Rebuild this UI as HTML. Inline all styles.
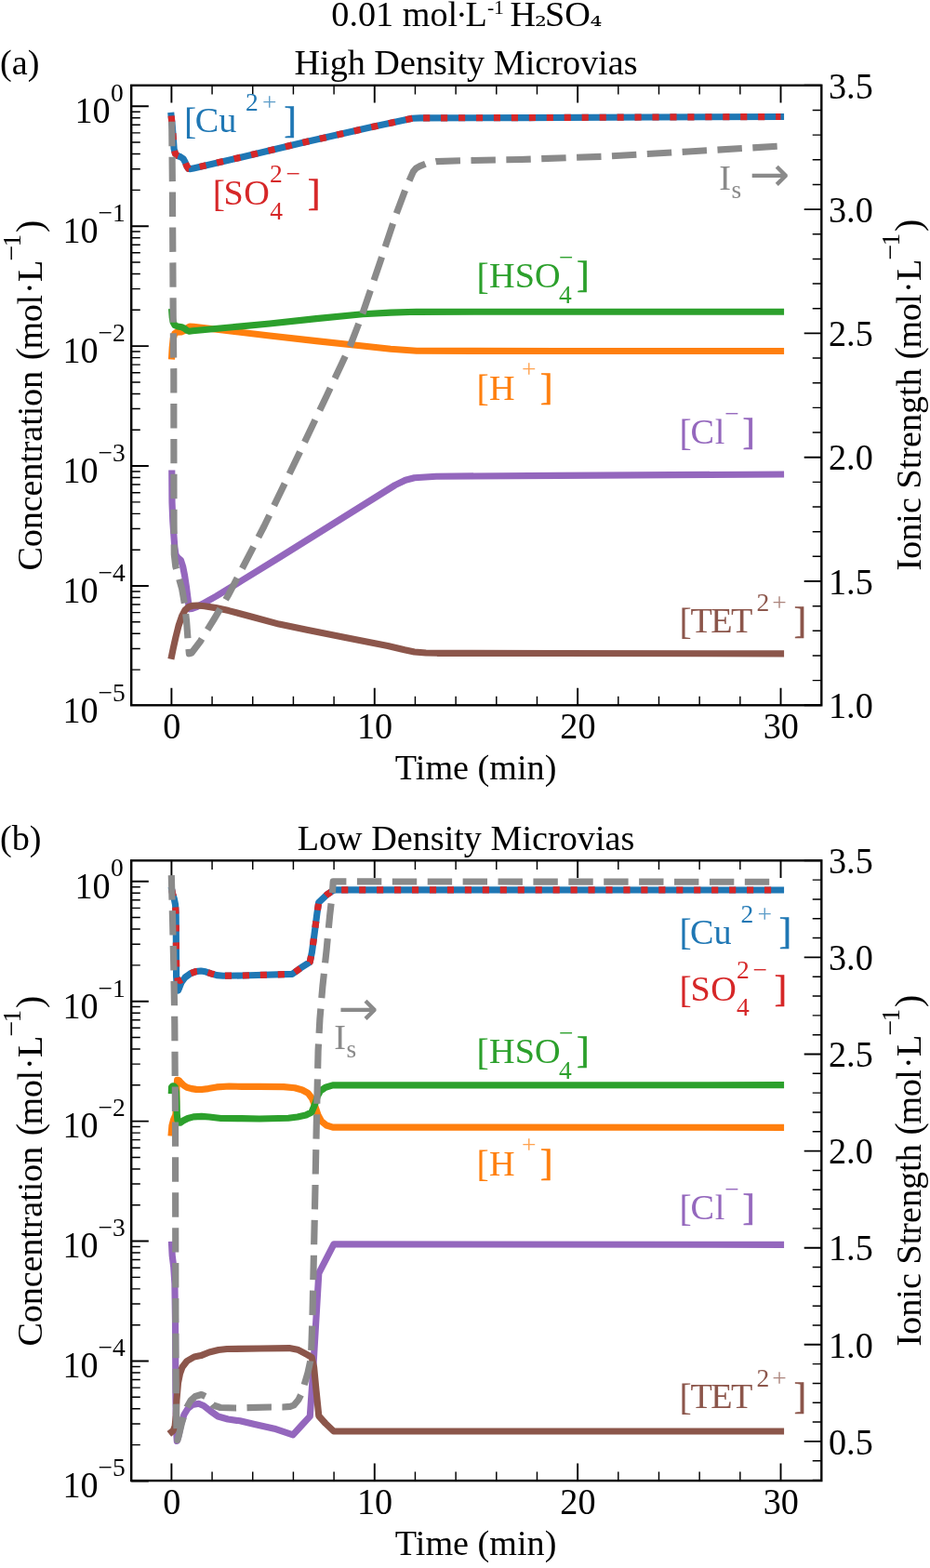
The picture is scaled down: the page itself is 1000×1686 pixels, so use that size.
<!DOCTYPE html>
<html lang="en"><head><meta charset="utf-8"><title>Concentration and ionic strength vs time</title>
<style>html,body{margin:0;padding:0;background:#fff}svg{display:block}text{font-family:"Liberation Serif","Times New Roman",serif}</style></head><body>
<svg width="1000" height="1686" viewBox="0 0 1000 1686">
<rect width="1000" height="1686" fill="#fff"/>
<text x="356.3" y="28.2" font-size="38.2" fill="#000" text-anchor="start" >0.01 mol</text>
<text x="489.9" y="28.2" font-size="38.2" fill="#000" text-anchor="start" >·</text>
<text x="500.5" y="28.2" font-size="38.2" fill="#000" text-anchor="start" >L</text>
<text x="523.9" y="15.2" font-size="21.7" fill="#000" text-anchor="start" >-1</text>
<text x="548.5" y="28.2" font-size="38.2" fill="#000" text-anchor="start" >H</text>
<text transform="translate(575.1 28.2) scale(1.3 1)" font-size="24.8" style="font-family:DejaVu Serif,Liberation Serif,serif">₂</text>
<text x="585.9" y="28.2" font-size="38.2" fill="#000" text-anchor="start" >SO</text>
<text transform="translate(634.5 28.2) scale(1.3 1)" font-size="24.8" style="font-family:DejaVu Serif,Liberation Serif,serif">₄</text>
<text x="501" y="79.6" font-size="38.2" fill="#000" text-anchor="middle" >High Density Microvias</text>
<text x="501" y="913.7" font-size="38.2" fill="#000" text-anchor="middle" >Low Density Microvias</text>
<text x="0" y="79.5" font-size="38.2" fill="#000" text-anchor="start" >(a)</text>
<text x="0" y="913.5" font-size="38.2" fill="#000" text-anchor="start" >(b)</text>
<text x="424.8" y="838.2" font-size="38.2" fill="#000" text-anchor="start" >Time (min)</text>
<text x="424.8" y="1671.7" font-size="38.2" fill="#000" text-anchor="start" >Time (min)</text>
<g>
<rect x="141.2" y="91.8" width="742.1" height="666.5" fill="none" stroke="#000" stroke-width="2.4"/>
<path d="M184.4 91.8L184.4 110.4 M184.4 758.3L184.4 739.7 M402.77 91.8L402.77 110.4 M402.77 758.3L402.77 739.7 M621.14 91.8L621.14 110.4 M621.14 758.3L621.14 739.7 M839.51 91.8L839.51 110.4 M839.51 758.3L839.51 739.7 M141.2 114.25L159.8 114.25 M141.2 243.19L159.8 243.19 M141.2 372.13L159.8 372.13 M141.2 501.07L159.8 501.07 M141.2 630.01L159.8 630.01 M883.3 758.3L864.7 758.3 M883.3 625L864.7 625 M883.3 491.7L864.7 491.7 M883.3 358.4L864.7 358.4 M883.3 225.1L864.7 225.1 M883.3 91.8L864.7 91.8" stroke="#000" stroke-width="1.9" fill="none"/>
<path d="M228.07 91.8L228.07 101.4 M228.07 758.3L228.07 748.7 M271.75 91.8L271.75 101.4 M271.75 758.3L271.75 748.7 M315.42 91.8L315.42 101.4 M315.42 758.3L315.42 748.7 M359.1 91.8L359.1 101.4 M359.1 758.3L359.1 748.7 M446.44 91.8L446.44 101.4 M446.44 758.3L446.44 748.7 M490.12 91.8L490.12 101.4 M490.12 758.3L490.12 748.7 M533.79 91.8L533.79 101.4 M533.79 758.3L533.79 748.7 M577.47 91.8L577.47 101.4 M577.47 758.3L577.47 748.7 M664.81 91.8L664.81 101.4 M664.81 758.3L664.81 748.7 M708.49 91.8L708.49 101.4 M708.49 758.3L708.49 748.7 M752.16 91.8L752.16 101.4 M752.16 758.3L752.16 748.7 M795.84 91.8L795.84 101.4 M795.84 758.3L795.84 748.7 M141.2 204.38L150.8 204.38 M141.2 181.67L150.8 181.67 M141.2 165.56L150.8 165.56 M141.2 153.06L150.8 153.06 M141.2 142.86L150.8 142.86 M141.2 134.22L150.8 134.22 M141.2 126.75L150.8 126.75 M141.2 120.15L150.8 120.15 M141.2 333.32L150.8 333.32 M141.2 310.61L150.8 310.61 M141.2 294.5L150.8 294.5 M141.2 282L150.8 282 M141.2 271.8L150.8 271.8 M141.2 263.16L150.8 263.16 M141.2 255.69L150.8 255.69 M141.2 249.09L150.8 249.09 M141.2 462.26L150.8 462.26 M141.2 439.55L150.8 439.55 M141.2 423.44L150.8 423.44 M141.2 410.94L150.8 410.94 M141.2 400.74L150.8 400.74 M141.2 392.1L150.8 392.1 M141.2 384.63L150.8 384.63 M141.2 378.03L150.8 378.03 M141.2 591.2L150.8 591.2 M141.2 568.49L150.8 568.49 M141.2 552.38L150.8 552.38 M141.2 539.88L150.8 539.88 M141.2 529.68L150.8 529.68 M141.2 521.04L150.8 521.04 M141.2 513.57L150.8 513.57 M141.2 506.97L150.8 506.97 M141.2 720.14L150.8 720.14 M141.2 697.43L150.8 697.43 M141.2 681.32L150.8 681.32 M141.2 668.82L150.8 668.82 M141.2 658.62L150.8 658.62 M141.2 649.98L150.8 649.98 M141.2 642.51L150.8 642.51 M141.2 635.91L150.8 635.91 M883.3 731.64L873.7 731.64 M883.3 704.98L873.7 704.98 M883.3 678.32L873.7 678.32 M883.3 651.66L873.7 651.66 M883.3 598.34L873.7 598.34 M883.3 571.68L873.7 571.68 M883.3 545.02L873.7 545.02 M883.3 518.36L873.7 518.36 M883.3 465.04L873.7 465.04 M883.3 438.38L873.7 438.38 M883.3 411.72L873.7 411.72 M883.3 385.06L873.7 385.06 M883.3 331.74L873.7 331.74 M883.3 305.08L873.7 305.08 M883.3 278.42L873.7 278.42 M883.3 251.76L873.7 251.76 M883.3 198.44L873.7 198.44 M883.3 171.78L873.7 171.78 M883.3 145.12L873.7 145.12 M883.3 118.46L873.7 118.46" stroke="#000" stroke-width="1.45" fill="none"/>
<text transform="translate(184.7 794.1) scale(1 1.045)" font-size="38.2" fill="#000" text-anchor="middle" >0</text>
<text transform="translate(403.07 794.1) scale(1 1.045)" font-size="38.2" fill="#000" text-anchor="middle" >10</text>
<text transform="translate(621.44 794.1) scale(1 1.045)" font-size="38.2" fill="#000" text-anchor="middle" >20</text>
<text transform="translate(839.81 794.1) scale(1 1.045)" font-size="38.2" fill="#000" text-anchor="middle" >30</text>
<text transform="translate(80.4 132.1) scale(1 1.03)" font-size="38.2" fill="#000" text-anchor="start" >10</text>
<text x="118.9" y="108.8" font-size="27.5" fill="#000" text-anchor="start" >0</text>
<text transform="translate(67.5 261.04) scale(1 1.03)" font-size="38.2" fill="#000" text-anchor="start" >10</text>
<text x="105.6" y="238.04" font-size="27.5" fill="#000" text-anchor="start" >−1</text>
<text transform="translate(67.5 389.98) scale(1 1.03)" font-size="38.2" fill="#000" text-anchor="start" >10</text>
<text x="105.6" y="366.98" font-size="27.5" fill="#000" text-anchor="start" >−2</text>
<text transform="translate(67.5 518.92) scale(1 1.03)" font-size="38.2" fill="#000" text-anchor="start" >10</text>
<text x="105.6" y="495.92" font-size="27.5" fill="#000" text-anchor="start" >−3</text>
<text transform="translate(67.5 647.86) scale(1 1.03)" font-size="38.2" fill="#000" text-anchor="start" >10</text>
<text x="105.6" y="624.86" font-size="27.5" fill="#000" text-anchor="start" >−4</text>
<text transform="translate(67.5 776.8) scale(1 1.03)" font-size="38.2" fill="#000" text-anchor="start" >10</text>
<text x="105.6" y="753.8" font-size="27.5" fill="#000" text-anchor="start" >−5</text>
<text transform="translate(891 772) scale(1 1.045)" font-size="38.2" fill="#000" text-anchor="start" >1.0</text>
<text transform="translate(891 638.7) scale(1 1.045)" font-size="38.2" fill="#000" text-anchor="start" >1.5</text>
<text transform="translate(891 505.4) scale(1 1.045)" font-size="38.2" fill="#000" text-anchor="start" >2.0</text>
<text transform="translate(891 372.1) scale(1 1.045)" font-size="38.2" fill="#000" text-anchor="start" >2.5</text>
<text transform="translate(891 238.8) scale(1 1.045)" font-size="38.2" fill="#000" text-anchor="start" >3.0</text>
<text transform="translate(891 105.5) scale(1 1.045)" font-size="38.2" fill="#000" text-anchor="start" >3.5</text>
<text transform="translate(45.1 613.6) rotate(-90)" font-size="38.2" letter-spacing="-0.13">Concentration</text>
<text transform="translate(44.75 387.3) rotate(-90)" font-size="39.6" >(</text>
<text transform="translate(45.1 375.4) rotate(-90)" font-size="38.2" letter-spacing="-0.5">mol</text>
<text transform="translate(44.1 316) rotate(-90)" font-size="38.2" >·</text>
<text transform="translate(45.1 303) rotate(-90)" font-size="38.2" >L</text>
<text transform="translate(21.5 280.4) rotate(-90)" font-size="30" >−</text>
<text transform="translate(21.9 265.5) rotate(-90)" font-size="27.5" >1</text>
<text transform="translate(44.75 250) rotate(-90)" font-size="39.6" >)</text>
<text transform="translate(990.2 613.6) rotate(-90)" font-size="38.2" >Ionic Strength</text>
<text transform="translate(989.85 386.4) rotate(-90)" font-size="39.6" >(</text>
<text transform="translate(990.2 374.5) rotate(-90)" font-size="38.2" letter-spacing="-0.5">mol</text>
<text transform="translate(989.2 315.1) rotate(-90)" font-size="38.2" >·</text>
<text transform="translate(990.2 302.1) rotate(-90)" font-size="38.2" >L</text>
<text transform="translate(966.6 279.5) rotate(-90)" font-size="30" >−</text>
<text transform="translate(967 264.6) rotate(-90)" font-size="27.5" >1</text>
<text transform="translate(989.85 249.1) rotate(-90)" font-size="39.6" >)</text>
<path d="M184.1 124.5 L185.3 136 L186.4 150 L187.1 160 L188.4 165.2 L190.5 167.3 L194 168.6 L197 170.6 L199.2 174.5 L200.8 178.5 L202.6 181.4 L205 181.6 L208 180.9 L260 168.9 L326 153.2 L400 136.6 L443.4 127.2 L452 126.9 L560 126.6 L700 126 L839.5 125.5" fill="none" stroke="#1f77b4" stroke-width="7.15" stroke-linejoin="round" stroke-linecap="square"/>
<path d="M184.1 124.5 L185.3 136 L186.4 150 L187.1 160 L188.4 165.2 L190.5 167.3 L194 168.6 L197 170.6 L199.2 174.5 L200.8 178.5 L202.6 181.4 L205 181.6 L208 180.9 L260 168.9 L326 153.2 L400 136.6 L443.4 127.2 L452 126.9 L560 126.6 L700 126 L839.5 125.5" fill="none" stroke="#d62728" stroke-width="7.15" stroke-linejoin="round" stroke-dasharray="7.15 11.8"/>
<path d="M184.7 383 L185.2 374 L186.3 364 L187.8 358.8 L190 357.3 L195 356.9 L198.5 355.5 L201.5 352.5 L204 351 L208 351.2 L250 356.3 L290 361 L340 366.6 L390 372 L420 375.2 L448 377.3 L600 377.5 L839.5 377.5" fill="none" stroke="#ff7f0e" stroke-width="7.15" stroke-linejoin="round" stroke-linecap="square"/>
<path d="M184.8 335.5 L185.2 341 L186.2 346.5 L188 349.8 L191 351 L195.5 351.8 L198.5 353.2 L201 355.2 L203.5 356.2 L207 355.8 L250 351.7 L290 348 L340 342.6 L390 337.7 L420 336.1 L448 335.3 L600 335.2 L839.5 335.2" fill="none" stroke="#2ca02c" stroke-width="7.15" stroke-linejoin="round" stroke-linecap="square"/>
<path d="M184.8 509 L185 540 L185.8 560 L186.7 573 L187.8 588 L189 596.5 L191.3 599.8 L194.5 602.5 L196.6 609 L198.6 619 L200.4 631 L201.8 642 L202.9 650.5 L203.8 654.8 L206.5 654.4 L212 652.3 L220 648.2 L232.6 641 L260 624.3 L300 599.6 L360 562.1 L424.8 521.6 L436 516.2 L445.6 513.8 L469 512.2 L600 511.4 L839.5 510" fill="none" stroke="#9467bd" stroke-width="7.15" stroke-linejoin="round" stroke-linecap="square"/>
<path d="M184.6 705.3 L186.3 697 L189 685 L192 673 L195.6 662.5 L199 656 L203 652.5 L207.5 651.2 L212 651 L220 651.7 L232 653.6 L245.9 656.6 L270 663 L300 671.1 L330 677.3 L370 685.3 L417 694.5 L435 698.8 L445.6 701 L458 702 L470 702.3 L600 702.5 L839.5 702.8" fill="none" stroke="#8c564b" stroke-width="7.15" stroke-linejoin="round" stroke-linecap="square"/>
<path d="M184.7 130.8 L185.4 200 L186.2 340 L186.8 400 L187 560 L187.3 596 L188.8 609 L195.6 633 L198.6 650 L200.6 668 L202.2 690 L203.4 702.8 L206 702 L215.5 689.5 L230 666 L245.9 639.2 L283.9 566 L321.8 487.4 L352 424 L376.7 371.4 L389.7 337.6 L409.2 280.4 L424.8 233.6 L436.5 202.4 L444.3 184.6 L447.5 180.8 L451.5 178.6 L458 176 L469 173.6 L500 172.6 L560 171.5 L650 168.2 L740 163 L839.5 157" fill="none" stroke="#8a8a8a" stroke-width="7.15" stroke-linejoin="round" stroke-dasharray="26.4 11.5"/>
<text x="198.1" y="143.8" font-size="39.6" fill="#1f77b4" text-anchor="start" >[</text>
<text x="209.7" y="142" font-size="38.2" fill="#1f77b4" text-anchor="start" >Cu</text>
<text x="264" y="119" font-size="27.5" fill="#1f77b4" text-anchor="start" >2</text>
<text x="282.1" y="119" font-size="27.5" fill="#1f77b4" text-anchor="start" fill-opacity="0.72">+</text>
<text x="305.4" y="142.5" font-size="39.6" fill="#1f77b4" text-anchor="start" stroke-width="0.7" stroke="#1f77b4">]</text>
<text x="228.7" y="221.8" font-size="39.6" fill="#d62728" text-anchor="start" >[</text>
<text x="240.6" y="220" font-size="38.2" fill="#d62728" text-anchor="start" letter-spacing="0.5">SO</text>
<text x="290.1" y="196" font-size="27.5" fill="#d62728" text-anchor="start" >2</text>
<text x="307.6" y="196" font-size="27.5" fill="#d62728" text-anchor="start" >−</text>
<text x="290.2" y="235.8" font-size="27.5" fill="#d62728" text-anchor="start" >4</text>
<text x="330.9" y="220.5" font-size="39.6" fill="#d62728" text-anchor="start" stroke-width="0.7" stroke="#d62728">]</text>
<text x="512.4" y="310.6" font-size="39.6" fill="#2ca02c" text-anchor="start" >[</text>
<text x="526.1" y="308.8" font-size="38.2" fill="#2ca02c" text-anchor="start" >HSO</text>
<text x="601.1" y="286" font-size="27.5" fill="#2ca02c" text-anchor="start" >−</text>
<text x="601.1" y="325.6" font-size="27.5" fill="#2ca02c" text-anchor="start" >4</text>
<text x="620.2" y="309.3" font-size="39.6" fill="#2ca02c" text-anchor="start" stroke-width="0.7" stroke="#2ca02c">]</text>
<text x="512.4" y="431.4" font-size="39.6" fill="#ff7f0e" text-anchor="start" >[</text>
<text x="526.1" y="429.6" font-size="38.2" fill="#ff7f0e" text-anchor="start" >H</text>
<text x="561.1" y="406.2" font-size="27.5" fill="#ff7f0e" text-anchor="start" fill-opacity="0.72">+</text>
<text x="581" y="430.1" font-size="39.6" fill="#ff7f0e" text-anchor="start" stroke-width="0.7" stroke="#ff7f0e">]</text>
<text x="730.6" y="478.8" font-size="39.6" fill="#9467bd" text-anchor="start" >[</text>
<text x="742.5" y="477" font-size="38.2" fill="#9467bd" text-anchor="start" letter-spacing="0.8">Cl</text>
<text x="779.3" y="454" font-size="27.5" fill="#9467bd" text-anchor="start" >−</text>
<text x="798.6" y="477.5" font-size="39.6" fill="#9467bd" text-anchor="start" stroke-width="0.7" stroke="#9467bd">]</text>
<text x="730.6" y="682.2" font-size="39.6" fill="#8c564b" text-anchor="start" >[</text>
<text x="742.5" y="680.4" font-size="38.2" fill="#8c564b" text-anchor="start" letter-spacing="-1.6">TET</text>
<text x="813.5" y="657.2" font-size="27.5" fill="#8c564b" text-anchor="start" >2</text>
<text x="830.2" y="657.2" font-size="27.5" fill="#8c564b" text-anchor="start" fill-opacity="0.72">+</text>
<text x="853.7" y="680.9" font-size="39.6" fill="#8c564b" text-anchor="start" stroke-width="0.7" stroke="#8c564b">]</text>
<text x="773.3" y="203.7" font-size="38.2" fill="#8a8a8a" text-anchor="start" >I</text>
<text x="786.6" y="213.2" font-size="27.5" fill="#8a8a8a" text-anchor="start" >s</text>
<text x="805.7" y="204.9" font-size="52" fill="#8a8a8a" style="font-family:DejaVu Sans,Liberation Sans,sans-serif">→</text>
</g>
<g>
<rect x="141.2" y="925.3" width="742.1" height="666.8" fill="none" stroke="#000" stroke-width="2.4"/>
<path d="M184.4 925.3L184.4 943.9 M184.4 1592.1L184.4 1573.5 M402.77 925.3L402.77 943.9 M402.77 1592.1L402.77 1573.5 M621.14 925.3L621.14 943.9 M621.14 1592.1L621.14 1573.5 M839.51 925.3L839.51 943.9 M839.51 1592.1L839.51 1573.5 M141.2 947.75L159.8 947.75 M141.2 1076.69L159.8 1076.69 M141.2 1205.63L159.8 1205.63 M141.2 1334.57L159.8 1334.57 M141.2 1463.51L159.8 1463.51 M141.2 1592.45L159.8 1592.45 M883.3 1549.9L864.7 1549.9 M883.3 1445.8L864.7 1445.8 M883.3 1341.7L864.7 1341.7 M883.3 1237.6L864.7 1237.6 M883.3 1133.5L864.7 1133.5 M883.3 1029.4L864.7 1029.4 M883.3 925.3L864.7 925.3" stroke="#000" stroke-width="1.9" fill="none"/>
<path d="M228.07 925.3L228.07 934.9 M228.07 1592.1L228.07 1582.5 M271.75 925.3L271.75 934.9 M271.75 1592.1L271.75 1582.5 M315.42 925.3L315.42 934.9 M315.42 1592.1L315.42 1582.5 M359.1 925.3L359.1 934.9 M359.1 1592.1L359.1 1582.5 M446.44 925.3L446.44 934.9 M446.44 1592.1L446.44 1582.5 M490.12 925.3L490.12 934.9 M490.12 1592.1L490.12 1582.5 M533.79 925.3L533.79 934.9 M533.79 1592.1L533.79 1582.5 M577.47 925.3L577.47 934.9 M577.47 1592.1L577.47 1582.5 M664.81 925.3L664.81 934.9 M664.81 1592.1L664.81 1582.5 M708.49 925.3L708.49 934.9 M708.49 1592.1L708.49 1582.5 M752.16 925.3L752.16 934.9 M752.16 1592.1L752.16 1582.5 M795.84 925.3L795.84 934.9 M795.84 1592.1L795.84 1582.5 M141.2 1037.88L150.8 1037.88 M141.2 1015.17L150.8 1015.17 M141.2 999.06L150.8 999.06 M141.2 986.56L150.8 986.56 M141.2 976.36L150.8 976.36 M141.2 967.72L150.8 967.72 M141.2 960.25L150.8 960.25 M141.2 953.65L150.8 953.65 M141.2 1166.82L150.8 1166.82 M141.2 1144.11L150.8 1144.11 M141.2 1128L150.8 1128 M141.2 1115.5L150.8 1115.5 M141.2 1105.3L150.8 1105.3 M141.2 1096.66L150.8 1096.66 M141.2 1089.19L150.8 1089.19 M141.2 1082.59L150.8 1082.59 M141.2 1295.76L150.8 1295.76 M141.2 1273.05L150.8 1273.05 M141.2 1256.94L150.8 1256.94 M141.2 1244.44L150.8 1244.44 M141.2 1234.24L150.8 1234.24 M141.2 1225.6L150.8 1225.6 M141.2 1218.13L150.8 1218.13 M141.2 1211.53L150.8 1211.53 M141.2 1424.7L150.8 1424.7 M141.2 1401.99L150.8 1401.99 M141.2 1385.88L150.8 1385.88 M141.2 1373.38L150.8 1373.38 M141.2 1363.18L150.8 1363.18 M141.2 1354.54L150.8 1354.54 M141.2 1347.07L150.8 1347.07 M141.2 1340.47L150.8 1340.47 M141.2 1553.64L150.8 1553.64 M141.2 1530.93L150.8 1530.93 M141.2 1514.82L150.8 1514.82 M141.2 1502.32L150.8 1502.32 M141.2 1492.12L150.8 1492.12 M141.2 1483.48L150.8 1483.48 M141.2 1476.01L150.8 1476.01 M141.2 1469.41L150.8 1469.41 M883.3 1591.54L873.7 1591.54 M883.3 1570.72L873.7 1570.72 M883.3 1529.08L873.7 1529.08 M883.3 1508.26L873.7 1508.26 M883.3 1487.44L873.7 1487.44 M883.3 1466.62L873.7 1466.62 M883.3 1424.98L873.7 1424.98 M883.3 1404.16L873.7 1404.16 M883.3 1383.34L873.7 1383.34 M883.3 1362.52L873.7 1362.52 M883.3 1320.88L873.7 1320.88 M883.3 1300.06L873.7 1300.06 M883.3 1279.24L873.7 1279.24 M883.3 1258.42L873.7 1258.42 M883.3 1216.78L873.7 1216.78 M883.3 1195.96L873.7 1195.96 M883.3 1175.14L873.7 1175.14 M883.3 1154.32L873.7 1154.32 M883.3 1112.68L873.7 1112.68 M883.3 1091.86L873.7 1091.86 M883.3 1071.04L873.7 1071.04 M883.3 1050.22L873.7 1050.22 M883.3 1008.58L873.7 1008.58 M883.3 987.76L873.7 987.76 M883.3 966.94L873.7 966.94 M883.3 946.12L873.7 946.12" stroke="#000" stroke-width="1.45" fill="none"/>
<text transform="translate(184.7 1627.9) scale(1 1.045)" font-size="38.2" fill="#000" text-anchor="middle" >0</text>
<text transform="translate(403.07 1627.9) scale(1 1.045)" font-size="38.2" fill="#000" text-anchor="middle" >10</text>
<text transform="translate(621.44 1627.9) scale(1 1.045)" font-size="38.2" fill="#000" text-anchor="middle" >20</text>
<text transform="translate(839.81 1627.9) scale(1 1.045)" font-size="38.2" fill="#000" text-anchor="middle" >30</text>
<text transform="translate(80.4 965.6) scale(1 1.03)" font-size="38.2" fill="#000" text-anchor="start" >10</text>
<text x="118.9" y="942.3" font-size="27.5" fill="#000" text-anchor="start" >0</text>
<text transform="translate(67.5 1094.54) scale(1 1.03)" font-size="38.2" fill="#000" text-anchor="start" >10</text>
<text x="105.6" y="1071.54" font-size="27.5" fill="#000" text-anchor="start" >−1</text>
<text transform="translate(67.5 1223.48) scale(1 1.03)" font-size="38.2" fill="#000" text-anchor="start" >10</text>
<text x="105.6" y="1200.48" font-size="27.5" fill="#000" text-anchor="start" >−2</text>
<text transform="translate(67.5 1352.42) scale(1 1.03)" font-size="38.2" fill="#000" text-anchor="start" >10</text>
<text x="105.6" y="1329.42" font-size="27.5" fill="#000" text-anchor="start" >−3</text>
<text transform="translate(67.5 1481.36) scale(1 1.03)" font-size="38.2" fill="#000" text-anchor="start" >10</text>
<text x="105.6" y="1458.36" font-size="27.5" fill="#000" text-anchor="start" >−4</text>
<text transform="translate(67.5 1610.3) scale(1 1.03)" font-size="38.2" fill="#000" text-anchor="start" >10</text>
<text x="105.6" y="1587.3" font-size="27.5" fill="#000" text-anchor="start" >−5</text>
<text transform="translate(891 1563.6) scale(1 1.045)" font-size="38.2" fill="#000" text-anchor="start" >0.5</text>
<text transform="translate(891 1459.5) scale(1 1.045)" font-size="38.2" fill="#000" text-anchor="start" >1.0</text>
<text transform="translate(891 1355.4) scale(1 1.045)" font-size="38.2" fill="#000" text-anchor="start" >1.5</text>
<text transform="translate(891 1251.3) scale(1 1.045)" font-size="38.2" fill="#000" text-anchor="start" >2.0</text>
<text transform="translate(891 1147.2) scale(1 1.045)" font-size="38.2" fill="#000" text-anchor="start" >2.5</text>
<text transform="translate(891 1043.1) scale(1 1.045)" font-size="38.2" fill="#000" text-anchor="start" >3.0</text>
<text transform="translate(891 939) scale(1 1.045)" font-size="38.2" fill="#000" text-anchor="start" >3.5</text>
<text transform="translate(45.1 1447.6) rotate(-90)" font-size="38.2" letter-spacing="-0.13">Concentration</text>
<text transform="translate(44.75 1221.3) rotate(-90)" font-size="39.6" >(</text>
<text transform="translate(45.1 1209.4) rotate(-90)" font-size="38.2" letter-spacing="-0.5">mol</text>
<text transform="translate(44.1 1150) rotate(-90)" font-size="38.2" >·</text>
<text transform="translate(45.1 1137) rotate(-90)" font-size="38.2" >L</text>
<text transform="translate(21.5 1114.4) rotate(-90)" font-size="30" >−</text>
<text transform="translate(21.9 1099.5) rotate(-90)" font-size="27.5" >1</text>
<text transform="translate(44.75 1084) rotate(-90)" font-size="39.6" >)</text>
<text transform="translate(990.2 1447.6) rotate(-90)" font-size="38.2" >Ionic Strength</text>
<text transform="translate(989.85 1220.4) rotate(-90)" font-size="39.6" >(</text>
<text transform="translate(990.2 1208.5) rotate(-90)" font-size="38.2" letter-spacing="-0.5">mol</text>
<text transform="translate(989.2 1149.1) rotate(-90)" font-size="38.2" >·</text>
<text transform="translate(990.2 1136.1) rotate(-90)" font-size="38.2" >L</text>
<text transform="translate(966.6 1113.5) rotate(-90)" font-size="30" >−</text>
<text transform="translate(967 1098.6) rotate(-90)" font-size="27.5" >1</text>
<text transform="translate(989.85 1083.1) rotate(-90)" font-size="39.6" >)</text>
<path d="M184.8 957 L185.6 961 L187.2 966 L188.6 973 L189.2 985 L189.4 1020 L189.6 1050 L190.3 1060 L191.5 1065 L192.8 1062 L195 1056.5 L199 1051 L205 1046.6 L210.5 1044.6 L216 1044 L221 1044.8 L227 1046.8 L233 1048.6 L240 1049.2 L260 1049 L314.2 1047.4 L323.7 1040.6 L333.2 1034.4 L335.4 1024 L338 1004.7 L340.9 982.2 L342.7 970.3 L352.2 961.4 L359.3 956.8 L839.5 957" fill="none" stroke="#1f77b4" stroke-width="7.15" stroke-linejoin="round" stroke-linecap="square"/>
<path d="M184.8 957 L185.6 961 L187.2 966 L188.6 973 L189.2 985 L189.4 1020 L189.8 1046 L191.2 1053.5 L193.5 1054.5 L196 1053 L199 1050.5 L205 1046.6 L210.5 1044.6 L216 1044 L221 1044.8 L227 1046.8 L233 1048.6 L240 1049.2 L260 1049 L314.2 1047.4 L323.7 1040.6 L333.2 1034.4 L335.4 1024 L338 1004.7 L340.9 982.2 L342.7 970.3 L352.2 961.4 L359.3 956.8 L839.5 957" fill="none" stroke="#d62728" stroke-width="7.15" stroke-linejoin="round" stroke-dasharray="7.15 11.8"/>
<path d="M184.3 1217.9 L184.9 1210.5 L186.6 1204 L188.8 1199 L189.6 1190 L189.9 1170 L190.6 1161.3 L192.4 1161.8 L195 1164.6 L197.5 1167 L201 1169.2 L206 1170.6 L211 1171.4 L216.8 1171.5 L224 1170.6 L233 1168.9 L246.5 1168 L260 1168.4 L279 1168.4 L305 1168.6 L317 1169.7 L325 1172 L331.2 1175.4 L335.5 1181 L338.8 1189.5 L342 1199 L345.5 1205.5 L351 1210 L357.8 1212.1 L839.5 1212.3" fill="none" stroke="#ff7f0e" stroke-width="7.15" stroke-linejoin="round" stroke-linecap="square"/>
<path d="M184.4 1172.5 L184.5 1169 L185.4 1167.9 L186.8 1167.8 L188.4 1169.2 L189.5 1174 L190 1185 L190.3 1198 L190.9 1204.5 L192.2 1207.2 L193.8 1207.2 L197 1205 L202 1202.5 L208 1200.9 L216.8 1200.4 L225 1201 L237.6 1202.5 L260 1202.6 L279 1203 L310 1202.2 L320 1201 L329 1199 L335 1196 L338.8 1187 L341.5 1178.5 L344.5 1173 L350 1169.2 L357.8 1166.9 L839.5 1166.7" fill="none" stroke="#2ca02c" stroke-width="7.15" stroke-linejoin="round" stroke-linecap="square"/>
<path d="M184.6 1338.5 L185.2 1350 L186.7 1362 L187.9 1380 L188.5 1420 L188.9 1500 L189.4 1535 L190.3 1549.5 L192.2 1543 L194.5 1532 L198 1521 L202 1514.5 L207 1510.5 L213.6 1509.3 L219 1511.5 L226 1517 L234.4 1523 L245 1526 L258 1527.8 L272.8 1531.2 L295 1536.2 L315 1542.9 L324 1533 L333.3 1522.9 L335.6 1490 L338 1450.8 L342.8 1369.2 L358.9 1337.9 L839.5 1338.3" fill="none" stroke="#9467bd" stroke-width="7.15" stroke-linejoin="round" stroke-linecap="square"/>
<path d="M184.6 1539.6 L186.3 1538.2 L188.1 1533.5 L189.3 1522 L189.9 1506 L191.5 1487 L193.5 1477 L196 1470 L201 1463.5 L208.8 1459 L216 1457.6 L225 1454 L235 1451.5 L244 1450.5 L280 1450 L311 1449.6 L320 1451.2 L330.4 1456.6 L335.2 1459.5 L337.6 1470 L340 1495 L342.8 1522.5 L350 1530.5 L358.9 1539 L839.5 1539" fill="none" stroke="#8c564b" stroke-width="7.15" stroke-linejoin="round" stroke-linecap="square"/>
<path d="M184.3 941.2 L185.6 990 L186.8 1040 L187.8 1100 L188.5 1200 L188.9 1440 L189.3 1500 L189.9 1535 L190.9 1548.5 L192.2 1544 L193.6 1538 L195.5 1530 L198 1521.5 L201 1513 L205 1506 L210 1501.5 L216.6 1499.5 L221.7 1502 L225.5 1506.5 L229.3 1511 L237 1513.5 L254 1514 L291.4 1513 L304 1513 L312 1512.4 L316 1511 L321 1505 L324.5 1497.8 L327 1489.5 L331 1476 L333.6 1464 L334.8 1450 L336 1413 L338.5 1300 L340.5 1200 L342.1 1130 L343.9 1096 L346.9 1060.5 L351 1022.5 L354.6 984.6 L357.4 960 L358.2 947.9 L838.6 948.3" fill="none" stroke="#8a8a8a" stroke-width="7.15" stroke-linejoin="round" stroke-dasharray="26.4 11.5"/>
<text x="730.5" y="1016.3" font-size="39.6" fill="#1f77b4" text-anchor="start" >[</text>
<text x="742.1" y="1014.5" font-size="38.2" fill="#1f77b4" text-anchor="start" >Cu</text>
<text x="796.4" y="991.5" font-size="27.5" fill="#1f77b4" text-anchor="start" >2</text>
<text x="814.5" y="991.5" font-size="27.5" fill="#1f77b4" text-anchor="start" fill-opacity="0.72">+</text>
<text x="837.8" y="1015" font-size="39.6" fill="#1f77b4" text-anchor="start" stroke-width="0.7" stroke="#1f77b4">]</text>
<text x="730.5" y="1077.8" font-size="39.6" fill="#d62728" text-anchor="start" >[</text>
<text x="742.4" y="1076" font-size="38.2" fill="#d62728" text-anchor="start" letter-spacing="0.5">SO</text>
<text x="791.9" y="1052" font-size="27.5" fill="#d62728" text-anchor="start" >2</text>
<text x="809.4" y="1052" font-size="27.5" fill="#d62728" text-anchor="start" >−</text>
<text x="792" y="1091.8" font-size="27.5" fill="#d62728" text-anchor="start" >4</text>
<text x="832.7" y="1076.5" font-size="39.6" fill="#d62728" text-anchor="start" stroke-width="0.7" stroke="#d62728">]</text>
<text x="512.4" y="1144.6" font-size="39.6" fill="#2ca02c" text-anchor="start" >[</text>
<text x="526.1" y="1142.8" font-size="38.2" fill="#2ca02c" text-anchor="start" >HSO</text>
<text x="601.1" y="1120" font-size="27.5" fill="#2ca02c" text-anchor="start" >−</text>
<text x="601.1" y="1159.6" font-size="27.5" fill="#2ca02c" text-anchor="start" >4</text>
<text x="620.2" y="1143.3" font-size="39.6" fill="#2ca02c" text-anchor="start" stroke-width="0.7" stroke="#2ca02c">]</text>
<text x="512.4" y="1265.4" font-size="39.6" fill="#ff7f0e" text-anchor="start" >[</text>
<text x="526.1" y="1263.6" font-size="38.2" fill="#ff7f0e" text-anchor="start" >H</text>
<text x="561.1" y="1240.2" font-size="27.5" fill="#ff7f0e" text-anchor="start" fill-opacity="0.72">+</text>
<text x="581" y="1264.1" font-size="39.6" fill="#ff7f0e" text-anchor="start" stroke-width="0.7" stroke="#ff7f0e">]</text>
<text x="730.6" y="1312.8" font-size="39.6" fill="#9467bd" text-anchor="start" >[</text>
<text x="742.5" y="1311" font-size="38.2" fill="#9467bd" text-anchor="start" letter-spacing="0.8">Cl</text>
<text x="779.3" y="1288" font-size="27.5" fill="#9467bd" text-anchor="start" >−</text>
<text x="798.6" y="1311.5" font-size="39.6" fill="#9467bd" text-anchor="start" stroke-width="0.7" stroke="#9467bd">]</text>
<text x="730.6" y="1516.2" font-size="39.6" fill="#8c564b" text-anchor="start" >[</text>
<text x="742.5" y="1514.4" font-size="38.2" fill="#8c564b" text-anchor="start" letter-spacing="-1.6">TET</text>
<text x="813.5" y="1491.2" font-size="27.5" fill="#8c564b" text-anchor="start" >2</text>
<text x="830.2" y="1491.2" font-size="27.5" fill="#8c564b" text-anchor="start" fill-opacity="0.72">+</text>
<text x="853.7" y="1514.9" font-size="39.6" fill="#8c564b" text-anchor="start" stroke-width="0.7" stroke="#8c564b">]</text>
<text x="359.2" y="1127.8" font-size="38.2" fill="#8a8a8a" text-anchor="start" >I</text>
<text x="372.5" y="1137.3" font-size="27.5" fill="#8a8a8a" text-anchor="start" >s</text>
<text x="363.5" y="1101.8" font-size="52" fill="#8a8a8a" style="font-family:DejaVu Sans,Liberation Sans,sans-serif">→</text>
</g>
</svg></body></html>
